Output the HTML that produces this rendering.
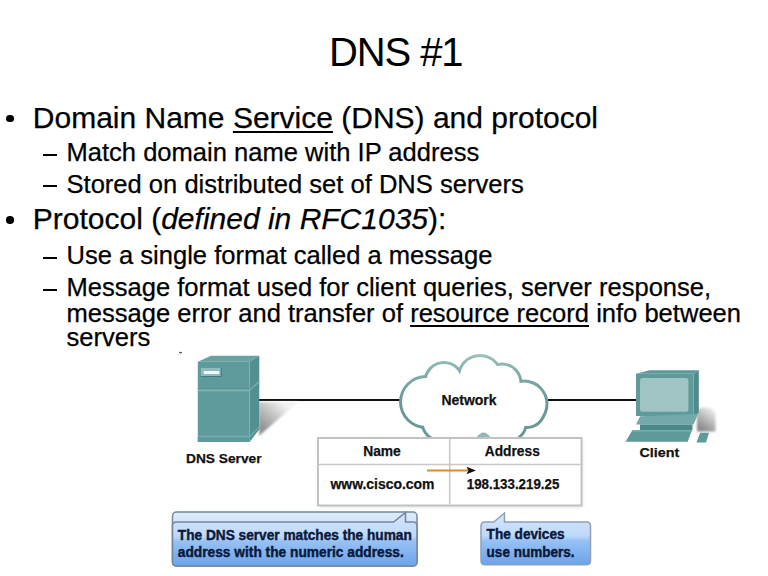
<!DOCTYPE html>
<html><head><meta charset="utf-8">
<style>
html,body{margin:0;padding:0;background:#fff;}
body{width:768px;height:576px;position:relative;overflow:hidden;font-family:"Liberation Sans",sans-serif;color:#000;}
.t{position:absolute;white-space:nowrap;line-height:1;-webkit-text-stroke:0.25px #000;}
.m{font-size:30px;}
.s{font-size:25.55px;}
.dot{position:absolute;width:7.5px;height:7.5px;border-radius:50%;background:#000;}
.dash{position:absolute;height:2px;background:#000;}
u{text-decoration:underline;text-decoration-thickness:2px;text-underline-offset:3px;}
svg{position:absolute;left:0;top:0;}
</style></head><body>
<div class="t" style="left:329px;top:31.5px;font-size:40px;letter-spacing:-1.1px;-webkit-text-stroke:0;">DNS #1</div>

<div class="dot" style="left:6px;top:114.5px;"></div>
<div class="t m" style="left:32.8px;top:102.9px;">Domain Name <u>Service</u> (DNS) and protocol</div>
<div class="dash" style="left:43px;top:153.5px;width:14px;"></div>
<div class="t s" style="left:66.5px;top:140.4px;">Match domain name with IP address</div>
<div class="dash" style="left:43px;top:185.4px;width:14px;"></div>
<div class="t s" style="left:66.5px;top:172.4px;">Stored on distributed set of DNS servers</div>
<div class="dot" style="left:6px;top:216.3px;"></div>
<div class="t m" style="left:32.8px;top:204.2px;">Protocol (<i>defined in RFC1035</i>):</div>
<div class="dash" style="left:43px;top:257px;width:14px;"></div>
<div class="t s" style="left:66.5px;top:242.8px;">Use a single format called a message</div>
<div class="dash" style="left:43px;top:289px;width:14px;"></div>
<div class="t s" style="left:66.5px;top:275.1px;">Message format used for client queries, server response,</div>
<div class="t s" style="left:66.5px;top:301.3px;">message error and transfer of <u>resource record</u> info between</div>
<div class="t s" style="left:66.5px;top:325px;">servers</div>

<svg width="768" height="576" viewBox="0 0 768 576">
<defs>
 <linearGradient id="cg" x1="0" y1="0" x2="0" y2="1">
  <stop offset="0" stop-color="#d3e6fc"/>
  <stop offset="0.44" stop-color="#bfd9fa"/>
  <stop offset="0.54" stop-color="#96c1f4"/>
  <stop offset="1" stop-color="#6ca3eb"/>
 </linearGradient>
 <linearGradient id="sg" x1="0" y1="0" x2="0" y2="1">
  <stop offset="0" stop-color="#dcebfc"/>
  <stop offset="1" stop-color="#b2d1f7"/>
 </linearGradient>
 <linearGradient id="sh1" gradientUnits="userSpaceOnUse" x1="284" y1="404" x2="263" y2="428">
  <stop offset="0" stop-color="#f2f2f2"/>
  <stop offset="1" stop-color="#949494"/>
 </linearGradient>
 <linearGradient id="sh2" gradientUnits="userSpaceOnUse" x1="714" y1="409" x2="700" y2="428">
  <stop offset="0" stop-color="#f2f2f2"/>
  <stop offset="1" stop-color="#8a8a8a"/>
 </linearGradient>
 <filter id="bs" x="-50%" y="-50%" width="200%" height="200%"><feGaussianBlur stdDeviation="0.8"/></filter>
 <filter id="bl" x="-50%" y="-50%" width="200%" height="200%"><feGaussianBlur stdDeviation="2"/></filter>
 <filter id="bl2" x="-50%" y="-50%" width="200%" height="200%"><feGaussianBlur stdDeviation="2.5"/></filter>
 <linearGradient id="cs" gradientUnits="userSpaceOnUse" x1="0" y1="352" x2="0" y2="440">
  <stop offset="0" stop-color="#9fc3bf"/>
  <stop offset="0.3" stop-color="#7aa7a4"/>
  <stop offset="0.6" stop-color="#6a9896"/>
  <stop offset="1" stop-color="#6a9896"/>
 </linearGradient>
</defs>
<ellipse cx="180.5" cy="352.6" rx="1.6" ry="0.8" fill="#555"/>
<!-- connecting line -->
<line x1="258" y1="400" x2="636" y2="400" stroke="#111" stroke-width="2.2"/>

<!-- server shadow -->
<polygon points="259,402 298,402 259,436" fill="url(#sh1)" filter="url(#bs)"/>
<!-- server -->
<polygon points="197.8,361.7 211,355.8 259.3,355.8 249.6,361.7" fill="#6aa2a2"/>
<polygon points="249.6,361.7 259.3,355.8 259.3,429.3 249.6,442" fill="#528f90"/>
<rect x="197.8" y="361.7" width="51.8" height="80.3" fill="#5f9b9c"/>
<rect x="197.8" y="388" width="51.8" height="1.2" fill="#558f90"/>
<rect x="197.8" y="389.2" width="51.8" height="2.2" fill="#79afaf"/>
<line x1="249.6" y1="390.3" x2="259.3" y2="381.3" stroke="#74aaaa" stroke-width="1.8"/>
<rect x="197.8" y="435.8" width="51.8" height="1.6" fill="#78adad"/>
<rect x="197.8" y="437.4" width="51.8" height="4.6" fill="#5e9a9b"/>
<line x1="249.6" y1="436.6" x2="259.3" y2="427" stroke="#6ea6a6" stroke-width="1.5"/>
<rect x="200.7" y="368" width="21" height="8.8" fill="#3f7475"/>
<rect x="200.7" y="368" width="20" height="8" fill="#8dbcbc"/>
<rect x="203.7" y="371" width="15.6" height="3" fill="#f2f9f9"/>

<!-- cloud -->
<g fill="url(#cs)"><circle cx="426" cy="402" r="27.0"/><circle cx="444" cy="381.5" r="20.5"/><circle cx="480" cy="377" r="23.0"/><circle cx="502" cy="383" r="20.5"/><circle cx="524" cy="404" r="24.5"/><circle cx="527" cy="410" r="19.0"/><circle cx="441" cy="422" r="20.5"/><circle cx="510" cy="424" r="17.5"/></g>
<g fill="#fff"><circle cx="426" cy="402" r="24.0"/><circle cx="444" cy="381.5" r="17.5"/><circle cx="480" cy="377" r="20.0"/><circle cx="502" cy="383" r="17.5"/><circle cx="524" cy="404" r="21.5"/><circle cx="527" cy="410" r="16.0"/><circle cx="441" cy="422" r="17.5"/><circle cx="510" cy="424" r="14.5"/><circle cx="475" cy="405" r="33"/><rect x="436" y="404" width="82" height="34"/></g>
<path d="M 476,438 Q 480,432.5 483.5,432.5 Q 487,432.5 491,438 Z" fill="#8fb8b4"/>

<!-- client shadow -->
<path d="M 697,413 L 699,408 Q 713,406 715.5,413 L 715.5,431.5 L 697,431.5 Z" fill="url(#sh2)" filter="url(#bs)"/>
<!-- client -->
<polygon points="636,373.7 649.5,370.2 698.8,370.2 693.6,373.7" fill="#5f9898"/>
<polygon points="693.6,373.7 698.8,370.2 698.8,413 693.6,416" fill="#4f8b8c"/>
<rect x="636" y="373.7" width="57.6" height="42.3" fill="#5f9b9b"/>
<rect x="640" y="378" width="48.4" height="33.8" rx="2.5" fill="#a0c4c4"/>
<polygon points="640,416.3 698,414 693.6,424.5 636,424.5" fill="#72a9a9"/>
<rect x="640" y="424.5" width="52.5" height="5.5" fill="#4c8788"/>
<polygon points="632.5,430 692,430 687.7,441.7 625.5,441.7" fill="#5f9a9a"/>
<rect x="632" y="430" width="60" height="1.5" fill="#79afaf"/>
<polygon points="700.2,432.8 709,432.8 706,442.4 696.5,442.4" fill="#5f9a9a"/>

<!-- table -->
<rect x="319.5" y="439.5" width="263" height="67.5" fill="#d8d8d8" filter="url(#bl)" opacity="0.7"/>
<rect x="318" y="438" width="263.5" height="67.5" fill="#fff" stroke="#c2c2c2" stroke-width="2"/>
<line x1="319" y1="464.5" x2="580.5" y2="464.5" stroke="#c8c8c8" stroke-width="1.5"/>
<line x1="449.7" y1="439" x2="449.7" y2="504.5" stroke="#c4c4c4" stroke-width="1.5"/>
<line x1="427" y1="470.5" x2="470" y2="470.5" stroke="#e0892e" stroke-width="2"/>
<path d="M 466.5,466.8 L 476,470.5 L 466.5,474.2 L 468.5,470.5 Z" fill="#111"/>

<!-- callout 1 -->
<rect x="172.5" y="512" width="244.5" height="54" rx="4" fill="url(#sg)" stroke="#76879f" stroke-width="1.5"/>
<path d="M 176.5,522 L 393.7,522 L 405.5,512.5 L 405.5,522 L 413,522 Q 417,522 417,526 L 417,562 Q 417,566 413,566 L 176.5,566 Q 172.5,566 172.5,562 L 172.5,526 Q 172.5,522 176.5,522 Z" fill="url(#cg)" stroke="#76879f" stroke-width="1.6"/>
<!-- callout 2 -->
<path d="M 485,522 L 493.7,522 L 504.5,513 L 504.5,522 L 586.5,522 Q 590.5,522 590.5,526 L 590.5,560.7 Q 590.5,564.7 586.5,564.7 L 485,564.7 Q 481,564.7 481,560.7 L 481,526 Q 481,522 485,522 Z" fill="url(#cg)" stroke="#8fa0b8" stroke-width="1.5"/>

<g font-family="Liberation Sans" font-weight="bold" fill="#111" stroke="#111" stroke-width="0.25">
 <text x="186" y="463.2" font-size="13.7" textLength="75.5" lengthAdjust="spacingAndGlyphs">DNS Server</text>
 <text x="441.5" y="404.6" font-size="15.3" textLength="55" lengthAdjust="spacingAndGlyphs">Network</text>
 <text x="639.5" y="456.8" font-size="13.6" textLength="39.8" lengthAdjust="spacingAndGlyphs">Client</text>
 <text x="363.2" y="456.4" font-size="14.2" textLength="37.6" lengthAdjust="spacingAndGlyphs">Name</text>
 <text x="484.8" y="456.4" font-size="14.2" textLength="55" lengthAdjust="spacingAndGlyphs">Address</text>
 <text x="330.5" y="489" font-size="14" textLength="104" lengthAdjust="spacingAndGlyphs">www.cisco.com</text>
 <text x="466.8" y="489" font-size="14" textLength="92.5" lengthAdjust="spacingAndGlyphs">198.133.219.25</text>
</g>
<g font-family="Liberation Sans" font-weight="bold" fill="#0b1a3c" stroke="#0b1a3c" stroke-width="0.45">
 <text x="177.8" y="539.6" font-size="14.2" textLength="234" lengthAdjust="spacingAndGlyphs">The DNS server matches the human</text>
 <text x="177.8" y="557.2" font-size="14.2" textLength="226" lengthAdjust="spacingAndGlyphs">address with the numeric address.</text>
 <text x="486.6" y="539.3" font-size="14.2" textLength="78" lengthAdjust="spacingAndGlyphs">The devices</text>
 <text x="486.6" y="556.7" font-size="14.2" textLength="88" lengthAdjust="spacingAndGlyphs">use numbers.</text>
</g>
</svg>
</body></html>
